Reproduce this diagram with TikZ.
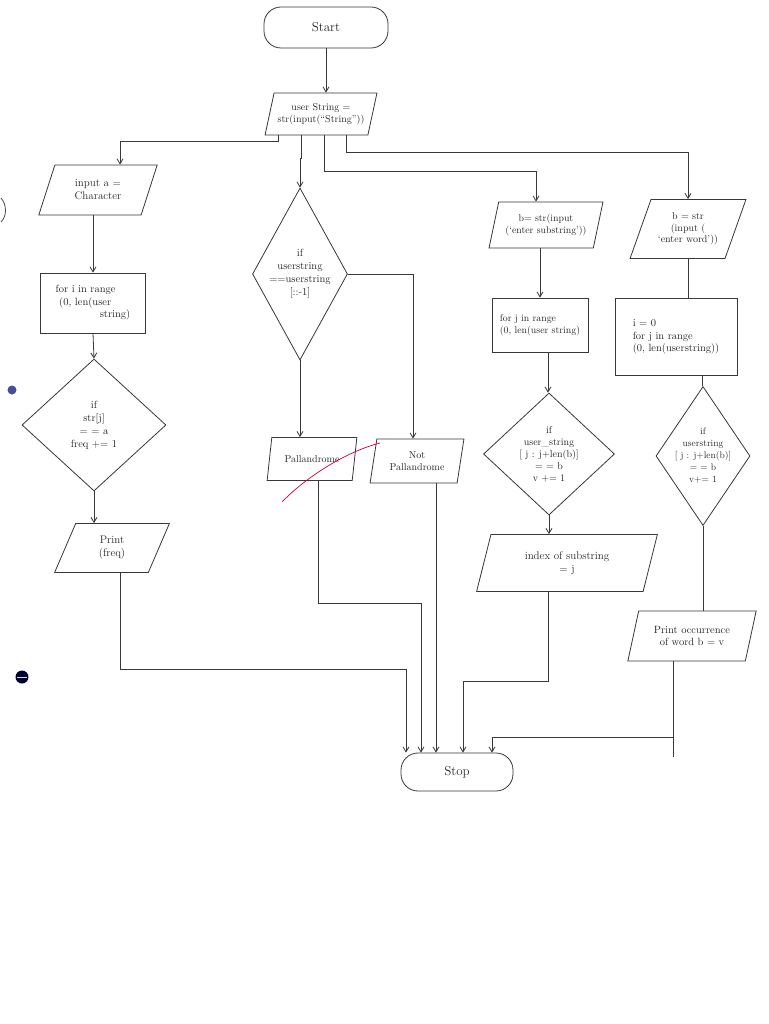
\documentclass[tikz,border=0pt]{standalone}
\usetikzlibrary{shapes.geometric,arrows.meta,calc}
\begin{document}
\begin{tikzpicture}[x=1pt,y=-1pt,
  every node/.style={font=\fontsize{11}{13}\selectfont, text=black!85},
  ln/.style={draw=black!78, line width=0.8pt},
  arr/.style={ln, -{Straight Barb[length=5pt,width=6pt]}},
  term/.style={ln, rectangle, rounded corners=17pt, inner sep=0pt, font=\fontsize{13}{15}\selectfont},
  io/.style={ln, trapezium, trapezium stretches=true, inner sep=1pt, align=center},
  proc/.style={ln, rectangle, inner sep=2pt, align=left, font=\fontsize{10.5}{12.5}\selectfont},
  dia/.style={ln, diamond, inner sep=0pt},
  lbl/.style={align=center, inner sep=0pt, font=\fontsize{10.5}{13}\selectfont}
]
\fill[white] (0,0) rectangle (768,1024);
\useasboundingbox (0,0) rectangle (768,1024);

% terminals
\node[term, minimum width=124pt, minimum height=41pt] (start) at (326,27.5) {Start};
\node[term, minimum width=112pt, minimum height=38pt] (stop) at (457,772) {Stop};

% top input
\node[io, trapezium left angle=70, trapezium right angle=110, minimum width=112pt, minimum height=42pt, font=\fontsize{10}{12}\selectfont] (us) at (321,114) {user String =\\str(input(“String”))};

% column 1
\node[io, trapezium left angle=68, trapezium right angle=112, minimum width=119pt, minimum height=50pt] (inp) at (98,190) {input a =\\Character};
\node[proc, minimum width=105pt, minimum height=60pt] (fi) at (93,303) {for i in range\\\ (0, len(user\\\hspace*{4.2em}string)};
\node[dia, minimum width=144pt, minimum height=132pt] (fd) at (94,425) {};
\node[lbl] (fdt) at (fd) {if\\str[j]\\= = a\\freq += 1};
\node[io, trapezium left angle=72, trapezium right angle=108, minimum width=115pt, minimum height=49pt] (pf) at (112,548) {Print\\(freq)};

% column 2
\node[dia, minimum width=95pt, minimum height=172pt] (pd) at (300,274) {};
\node[lbl] (pdt) at (pd) {if\\userstring\\==userstring\\{}[::-1]};
\node[io, trapezium left angle=70, trapezium right angle=110, minimum width=90pt, minimum height=43pt, font=\fontsize{10}{12}\selectfont] (pl) at (312,459) {Pallandrome};
\node[io, trapezium left angle=77, trapezium right angle=103, minimum width=94pt, minimum height=44pt, font=\fontsize{10}{12}\selectfont] (np) at (417,461) {Not\\Pallandrome};

% column 3
\node[io, trapezium left angle=70, trapezium right angle=110, minimum width=114pt, minimum height=46pt, font=\fontsize{9.8}{11.5}\selectfont] (bb) at (546,225) {b= str(input\\(‘enter substring’))};
\node[proc, minimum width=96pt, minimum height=54pt, font=\fontsize{9.8}{12}\selectfont] (fj) at (540,325) {for j in range\\(0, len(user string)};
\node[dia, minimum width=131pt, minimum height=122pt] (sd) at (549,454) {};
\node[lbl, font=\fontsize{10}{12}\selectfont] (sdt) at (sd) {if\\user\_string\\{}[ j : j+len(b)]\\= = b\\v += 1};
\node[io, trapezium left angle=72, trapezium right angle=108, minimum width=181pt, minimum height=57pt] (ix) at (567,563) {index of substring\\= j};

% column 4
\node[io, trapezium left angle=63, trapezium right angle=117, minimum width=117pt, minimum height=59pt, font=\fontsize{10}{11.5}\selectfont] (wd) at (688,229) {b = str\\(input (\\‘enter word’))};
\node[proc, minimum width=122pt, minimum height=77pt] (fk) at (676,337) {i = 0\\for j in range\\(0, len(userstring))};
\node[dia, minimum width=94pt, minimum height=139pt] (wdd) at (703,456) {};
\node[lbl, font=\fontsize{9.5}{12}\selectfont] (wddt) at (wdd) {if\\userstring\\{}[ j : j+len(b)]\\= = b\\v+= 1};
\node[io, trapezium left angle=70, trapezium right angle=110, minimum width=129pt, minimum height=50pt, font=\fontsize{10.5}{12.5}\selectfont] (po) at (692,636) {Print occurrence\\of word b = v};

% connectors from top
\draw[arr] (start.south) -- (start.south |- us.north);
\draw[arr] ([xshift=-43pt]us.south) -- ++(0,6) -| ([xshift=22pt]inp.north);
\draw[arr] ([xshift=-20pt]us.south) -- ++(0,23) -| (pd.north);
\draw[arr] ([xshift=3pt]us.south) -- ++(0,36) -| ([xshift=-10pt]bb.north);
\draw[arr] ([xshift=25pt]us.south) -- ++(0,17) -| (wd.north);

% column 1
\draw[arr] (fi.north |- inp.south) -- (fi.north);
\draw[arr] (fi.south) -- (fd.north);
\draw[arr] (fd.south) -- (fd.south |- pf.north);
\draw[arr] ([xshift=8pt]pf.south) -- ++(0,96) -| ([xshift=-51pt]stop.north);

% column 2
\draw[arr] (pd.east) -| ([xshift=-4pt]np.north);
\draw[arr] (pd.south) -- (pd.south |- pl.north);
\draw[arr] ([xshift=6pt]pl.south) -- ++(0,122) -| ([xshift=-36pt]stop.north);
\draw[arr] ([xshift=-21pt]stop.north |- np.south) -- ([xshift=-21pt]stop.north);

% column 3
\draw[arr] (fj.north |- bb.south) -- (fj.north);
\draw[arr] ([xshift=8pt]fj.south) -- ([xshift=8pt]fj.south |- sd.north);
\draw[arr] (sd.south) -- (sd.south |- ix.north);
\draw[arr] ([xshift=-19pt]ix.south) -- ++(0,89) -| ([xshift=6pt]stop.north);

% column 4
\draw[ln] (wd.south) -- (wd.south |- fk.north);
\draw[ln] ([xshift=26pt]fk.south) -- ([xshift=26pt]fk.south |- wdd.north);
\draw[ln] (wdd.south) -- (wdd.south |- po.north);
\path ([xshift=-19pt]po.south) ++(0,76) coordinate (pj);
\draw[ln] ([xshift=-19pt]po.south) -- (pj) -- ++(0,20);
\draw[arr] (pj) -| ([xshift=35pt]stop.north);

% stray pen stroke
\draw[draw=purple!80!red, line width=0.7pt] (380,443) .. controls (345,452) and (305,478) .. (282,502);

% margin marks
\draw[black!70, line width=0.8pt] (1,198) .. controls (7,205) and (7,216) .. (1,222);
\fill[black!55!blue!70] (12,390) circle (4.5);
\fill[black!80!blue] (22,677) circle (6.5);
\draw[white!70!gray, line width=0.6pt] (17,677) -- (27,677);
\end{tikzpicture}
\end{document}
